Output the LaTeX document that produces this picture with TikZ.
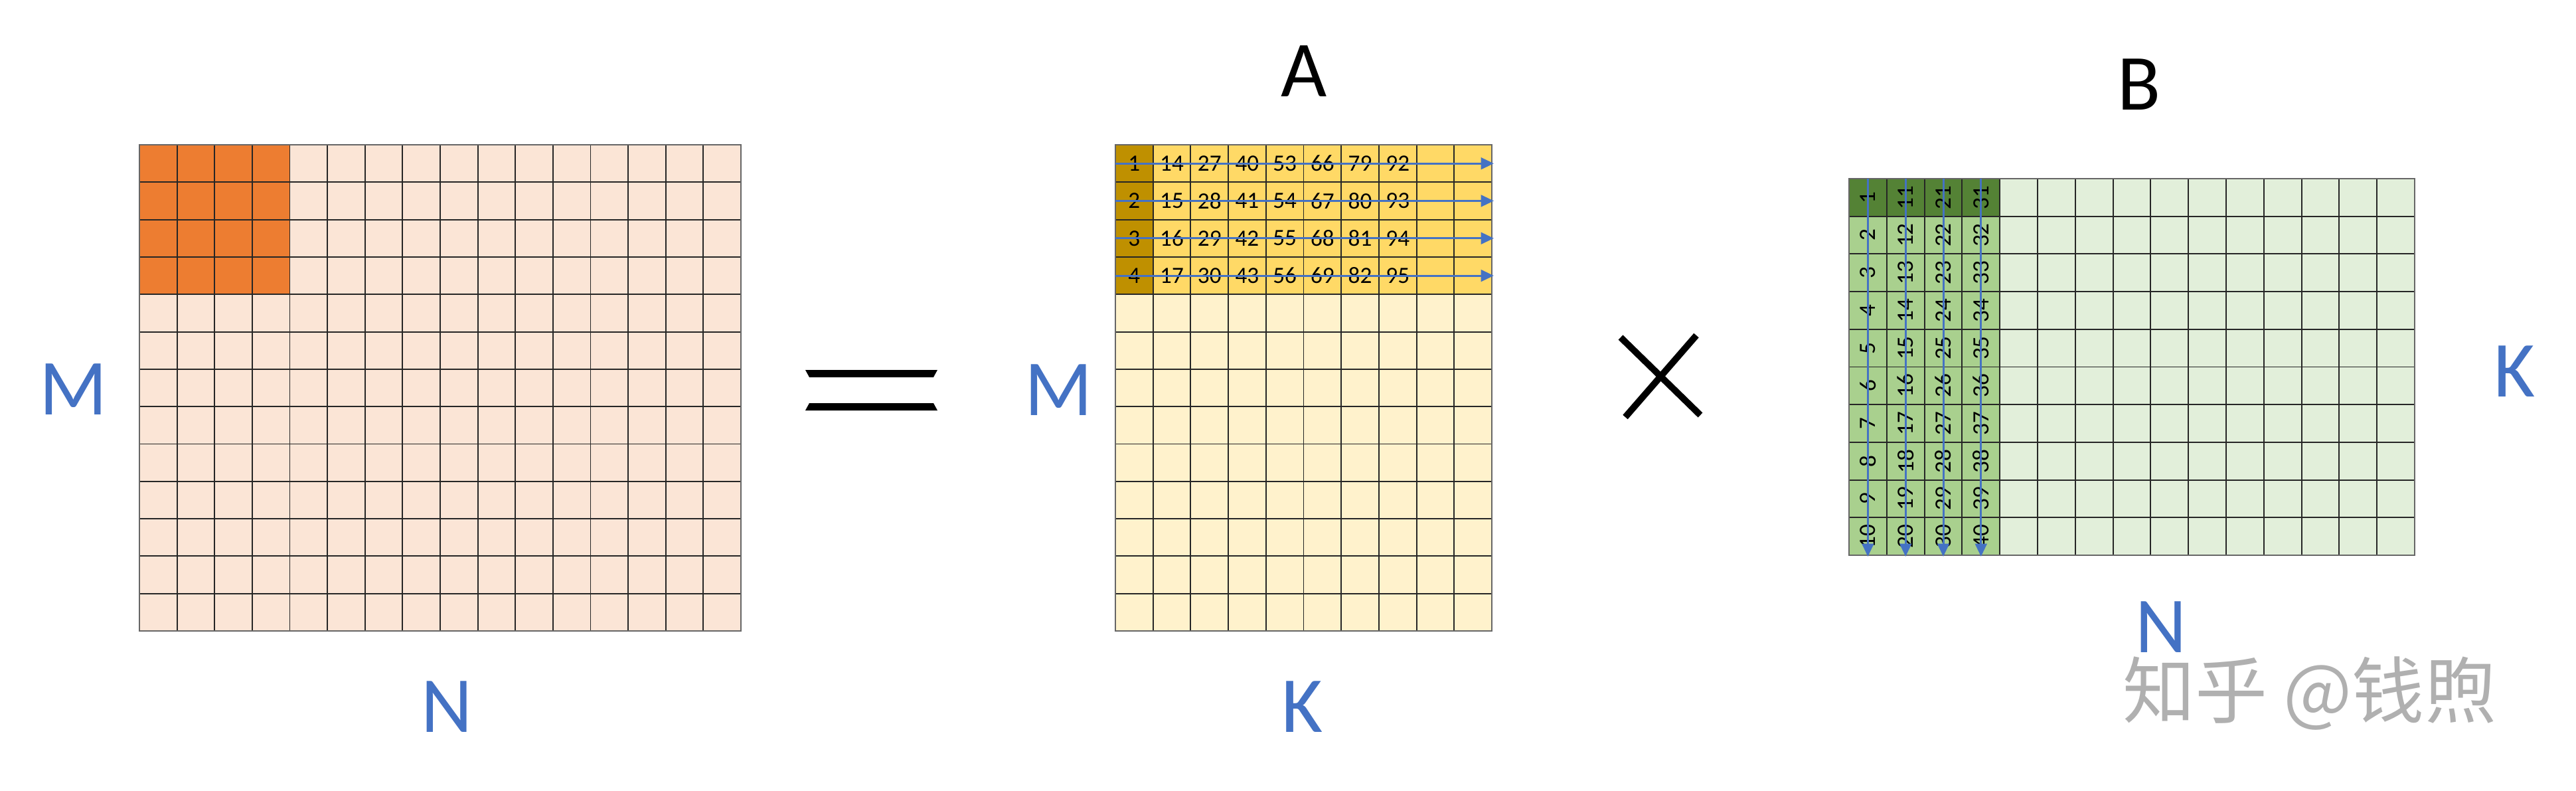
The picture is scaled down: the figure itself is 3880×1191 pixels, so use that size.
\documentclass[tikz,border=0pt]{standalone}
\usepackage{fontspec}
\setmainfont{Carlito}
\newfontfamily\cjk{Noto Sans CJK SC}
\usetikzlibrary{arrows.meta}
\definecolor{cLight}{HTML}{FBE5D6}
\definecolor{cDark}{HTML}{ED7D31}
\definecolor{aLight}{HTML}{FFF2CC}
\definecolor{aMid}{HTML}{FFD966}
\definecolor{aDark}{HTML}{BF9000}
\definecolor{bLight}{HTML}{E2EFDA}
\definecolor{bMid}{HTML}{A9D08E}
\definecolor{bDark}{HTML}{548235}
\definecolor{lblue}{HTML}{4472C4}
\definecolor{wmgray}{HTML}{B0B0B0}
\begin{document}
\begin{tikzpicture}[x=0.01cm,y=-0.01cm,
  gridline/.style={line width=0.55pt, draw=black!85},
  frame/.style={line width=0.7pt, draw=black!60},
  dimlabel/.style={text=lblue, font=\fontsize{34}{40}\selectfont, inner sep=0pt},
  matlabel/.style={text=black, font=\fontsize{34}{40}\selectfont, inner sep=0pt},
  cellnum/.style={font=\fontsize{10}{12}\selectfont, inner sep=0pt, text=black},
  flow/.style={draw=lblue, line width=0.85pt, -{Triangle[length=5.5pt,width=5pt]}},
  opsign/.style={fill=black},
]
\useasboundingbox (0,0) rectangle (3880,1191);

% ---------- matrix C (13 x 16) ----------
\def\cx{210}\def\cy{218}\def\cw{56.625}\def\ch{56.31}
\fill[cLight] (\cx,\cy) rectangle (1116,950);
\fill[cDark] (\cx,\cy) rectangle ({\cx+4*\cw},{\cy+4*\ch});
\foreach \i in {0,...,16} \draw[gridline] ({\cx+\i*\cw},\cy) -- ({\cx+\i*\cw},950);
\foreach \j in {0,...,13} \draw[gridline] (\cx,{\cy+\j*\ch}) -- (1116,{\cy+\j*\ch});
\draw[frame] (\cx,\cy) rectangle (1116,950);

% ---------- matrix A (13 x 10) ----------
\def\ax{1680}\def\aw{56.7}
\fill[aLight] (\ax,\cy) rectangle (2247,950);
\fill[aMid] (\ax,\cy) rectangle (2247,{\cy+4*\ch});
\fill[aDark] (\ax,\cy) rectangle ({\ax+\aw},{\cy+4*\ch});
\foreach \i in {0,...,10} \draw[gridline] ({\ax+\i*\aw},\cy) -- ({\ax+\i*\aw},950);
\foreach \j in {0,...,13} \draw[gridline] (\ax,{\cy+\j*\ch}) -- (2247,{\cy+\j*\ch});
\draw[frame] (\ax,\cy) rectangle (2247,950);
\foreach \r in {1,...,4} {
  \foreach \c in {1,...,8} {
    \pgfmathtruncatemacro{\v}{\r+13*(\c-1)}
    \node[cellnum] (a-\r-\c) at ({\ax+(\c-0.5)*\aw},{\cy+(\r-0.5)*\ch}) {\v};
  }
  \coordinate (as\r) at (\ax,{\cy+(\r-0.5)*\ch});
  \coordinate (ae\r) at (2250,{\cy+(\r-0.5)*\ch});
  \draw[flow] (as\r) -- (ae\r);
}

% ---------- matrix B (10 x 15) ----------
\def\bx{2785}\def\by{269}\def\bw{56.8}\def\bh{56.7}
\fill[bLight] (\bx,\by) rectangle (3637,836);
\fill[bMid] (\bx,\by) rectangle ({\bx+4*\bw},836);
\fill[bDark] (\bx,\by) rectangle ({\bx+4*\bw},{\by+\bh});
\foreach \i in {0,...,15} \draw[gridline] ({\bx+\i*\bw},\by) -- ({\bx+\i*\bw},836);
\foreach \j in {0,...,10} \draw[gridline] (\bx,{\by+\j*\bh}) -- (3637,{\by+\j*\bh});
\draw[frame] (\bx,\by) rectangle (3637,836);
\foreach \c in {1,...,4} {
  \foreach \r in {1,...,10} {
    \pgfmathtruncatemacro{\v}{\r+10*(\c-1)}
    \node[cellnum, rotate=90] (b-\r-\c) at ({\bx+(\c-0.5)*\bw},{\by+(\r-0.5)*\bh}) {\v};
  }
  \coordinate (bs\c) at ({\bx+(\c-0.5)*\bw},\by);
  \coordinate (be\c) at ({\bx+(\c-0.5)*\bw},838);
  \draw[flow] (bs\c) -- (be\c);
}

% ---------- operators ----------
\fill[opsign] (1213,557) -- (1412,557) -- (1406,568) -- (1219,568) -- cycle;
\fill[opsign] (1219,607) -- (1406,607) -- (1412,618) -- (1213,618) -- cycle;
\draw[line width=2.8pt] (2441,508) -- (2561,625);
\draw[line width=2.8pt] (2555,505) -- (2448,628);

% ---------- labels ----------
\node[dimlabel] (mC) at (111,586) {M};
\node[dimlabel] (nC) at (673,1064) {N};
\node[dimlabel] (mA) at (1595,587) {M};
\node[dimlabel] (kA) at (1962,1064) {K};
\node[matlabel] (lA) at (1964,107) {A};
\node[matlabel] (lB) at (3222,127) {B};
\node[dimlabel] (kB) at (3788,559) {K};
\node[dimlabel] (nB) at (3255,944) {N};
\node[text=wmgray, inner sep=0pt, font=\cjk\fontsize{31}{36}\selectfont] (wm) at (3479,1044) {知乎 @钱煦};
\end{tikzpicture}
\end{document}
